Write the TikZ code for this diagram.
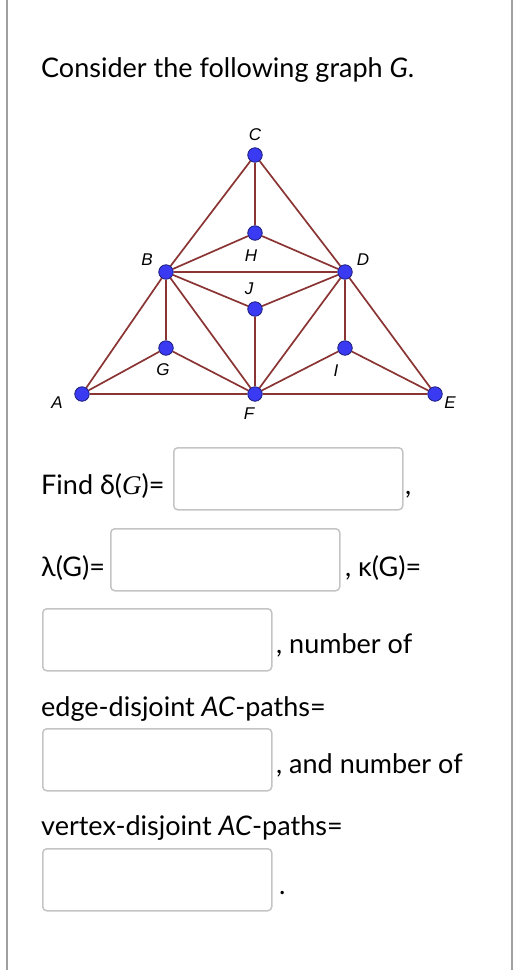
\documentclass[tikz,border=0pt]{standalone}
\usepackage{fontspec}
\setmainfont{Lato}
\newfontfamily\lblfont{Liberation Sans}
\newfontfamily\serifG{Liberation Serif}
\definecolor{edgecol}{HTML}{8A3434}
\definecolor{vfill}{HTML}{3A3AF2}
\definecolor{vdraw}{HTML}{1C1C7A}
\definecolor{boxcol}{HTML}{C4C4C4}
\definecolor{framecol}{HTML}{A0A0A0}
\begin{document}
\begin{tikzpicture}[x=1pt,y=-1pt,
  vert/.style={circle,fill=vfill,draw=vdraw,line width=0.8pt,minimum size=14.5pt,inner sep=0pt},
  edge/.style={draw=edgecol,line width=1.7pt},
  vlabel/.style={font=\lblfont\itshape\fontsize{17}{17}\selectfont,inner sep=0pt},
  txt/.style={font=\fontsize{27}{32}\selectfont,anchor=base west,inner sep=0pt},
  ansbox/.style={draw=boxcol,line width=1.5pt,rounded corners=4pt,inner sep=0pt,anchor=north west,minimum width=229pt,minimum height=62pt},
  frameline/.style={draw=framecol,line width=1.5pt}]
\useasboundingbox (0,0) rectangle (518,970);
% frame
\coordinate (fl1) at (7,0); \coordinate (fl2) at (7,970);
\coordinate (fr1) at (512,0); \coordinate (fr2) at (512,970);
\draw[frameline] (fl1) -- (fl2);
\draw[frameline] (fr1) -- (fr2);
% title
\node[txt] (title) at (41,77) {Consider the following graph \textit{G}.};
% vertices
\node[vert] (C) at (255,155) {};
\node[vert] (H) at (255,233) {};
\node[vert] (B) at (166,272) {};
\node[vert] (D) at (345,272) {};
\node[vert] (J) at (255,309) {};
\node[vert] (G) at (166,348) {};
\node[vert] (I) at (345,348) {};
\node[vert] (A) at (82,394) {};
\node[vert] (F) at (255,394) {};
\node[vert] (E) at (435,394) {};
% edges
\foreach \u/\v in {A/B,A/G,A/F,G/B,G/F,B/F,B/C,B/H,B/D,B/J,C/H,C/D,H/D,J/D,J/F,D/F,D/I,D/E,I/F,I/E,F/E}
  \draw[edge] (\u) -- (\v);
% vertex labels
\node[vlabel] (lC) at (255,135) {C};
\node[vlabel] (lH) at (251,256) {H};
\node[vlabel] (lB) at (147,260) {B};
\node[vlabel] (lD) at (363,260) {D};
\node[vlabel] (lJ) at (249,289) {J};
\node[vlabel] (lG) at (163,370) {G};
\node[vlabel] (lI) at (336,371) {I};
\node[vlabel] (lA) at (57,403) {A};
\node[vlabel] (lF) at (249,414) {F};
\node[vlabel] (lE) at (450,403) {E};
% question text and boxes
\node[txt] (find) at (41,494) {Find δ({\serifG\itshape G})=};
\node[ansbox] (b1) at (173,447) {};
\node[txt] (c1) at (405,494) {,};
\node[txt] (lam) at (41,576) {λ(G)=};
\node[ansbox] (b2) at (110,528) {};
\node[txt] (kap) at (345,576) {, κ(G)=};
\node[ansbox] (b3) at (42,608) {};
\node[txt] (num1) at (276,653) {, number of};
\node[txt] (edj) at (41,716) {edge-disjoint \textit{AC}-paths=};
\node[ansbox] (b4) at (42,728) {};
\node[txt] (num2) at (276,773) {, and number of};
\node[txt] (vdj) at (41,835) {vertex-disjoint \textit{AC}-paths=};
\node[ansbox] (b5) at (42,848) {};
\node[txt] (dot) at (279,894) {.};
\end{tikzpicture}
\end{document}
